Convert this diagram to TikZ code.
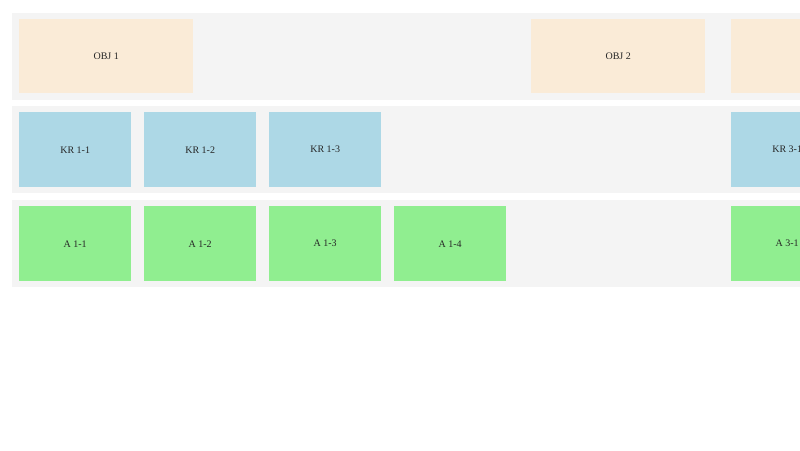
\documentclass[tikz,border=0pt]{standalone}
\usepackage{fontspec}
\setmainfont{Liberation Serif}
\definecolor{bandc}{HTML}{F4F4F4}
\definecolor{objc}{HTML}{FAEBD7}
\definecolor{krc}{HTML}{ADD8E6}
\definecolor{actc}{HTML}{90EE90}
\begin{document}
\begin{tikzpicture}[x=1pt,y=-1pt,
  band/.style={fill=bandc,draw=none},
  card/.style={draw=none,inner sep=0pt,anchor=north west,font=\fontsize{10}{12}\selectfont,text=black!85},
  objbox/.style={card,fill=objc,minimum width=174pt,minimum height=74pt},
  krbox/.style={card,fill=krc,minimum width=112pt,minimum height=75pt},
  actbox/.style={card,fill=actc,minimum width=112pt,minimum height=75pt}]
\useasboundingbox (0,0) rectangle (800,450);
\clip (0,0) rectangle (800,450);
\fill[white] (0,0) rectangle (800,450);
\fill[band] (12,13) rectangle (860,100);
\fill[band] (12,106) rectangle (860,193);
\fill[band] (12,200) rectangle (860,287);
\node[objbox] (obj1) at (19,19) {OBJ 1};
\node[objbox] (obj2) at (531,19) {OBJ 2};
\node[objbox] (obj3) at (731,19) {};
\node[krbox] (kr11) at (19,112) {KR 1-1};
\node[krbox] (kr12) at (144,112) {KR 1-2};
\node[krbox] (kr13) at (269,112) {KR 1-3};
\node[krbox] (kr31) at (731,112) {KR 3-1};
\node[actbox] (a11) at (19,206) {A 1-1};
\node[actbox] (a12) at (144,206) {A 1-2};
\node[actbox] (a13) at (269,206) {A 1-3};
\node[actbox] (a14) at (394,206) {A 1-4};
\node[actbox] (a31) at (731,206) {A 3-1};
\end{tikzpicture}
\end{document}
